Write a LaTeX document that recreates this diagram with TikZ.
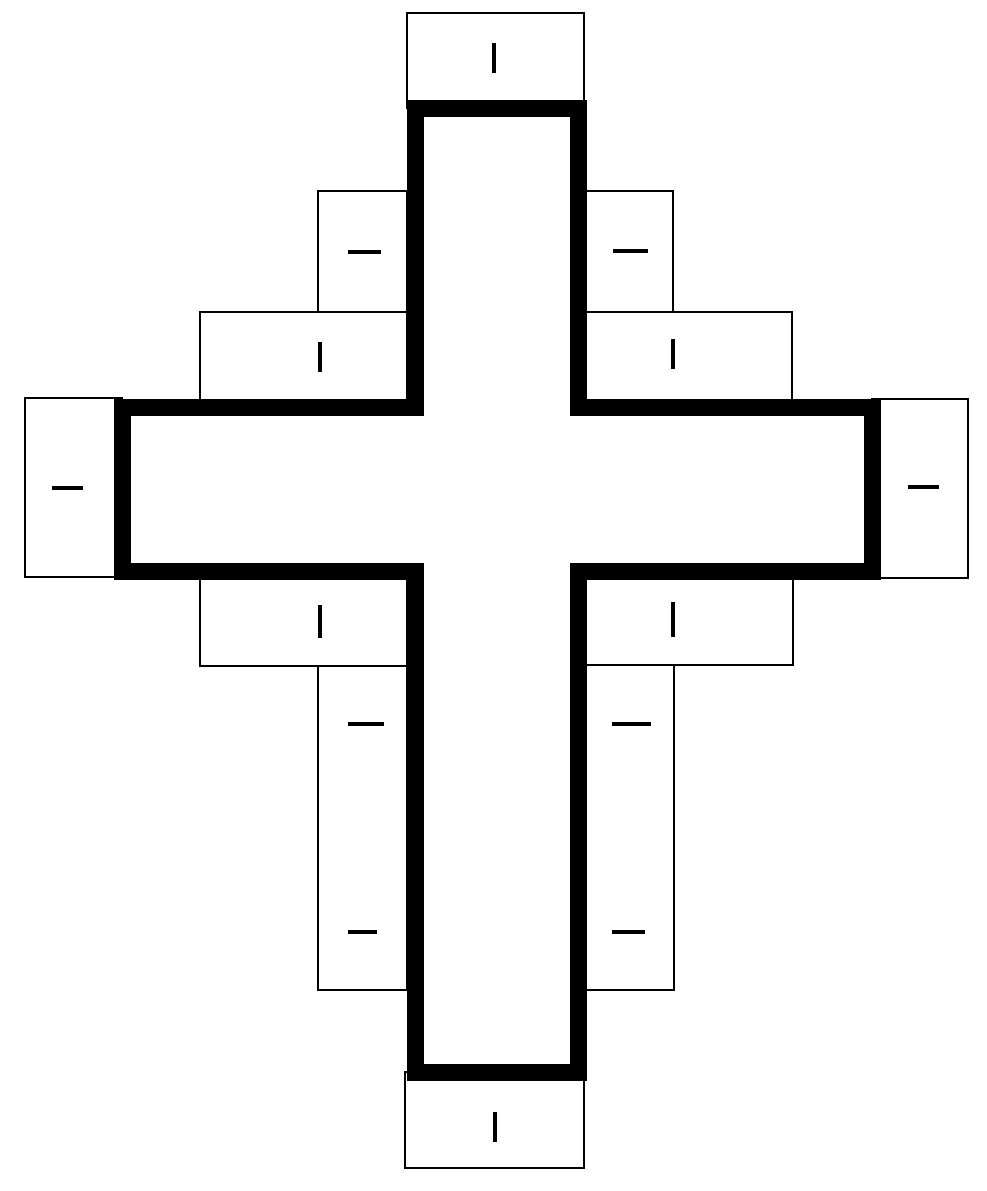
\documentclass[tikz,border=0pt]{standalone}
\usetikzlibrary{fit}
\tikzset{
  box/.style={draw=black, line width=1.9pt, inner sep=0pt, fill=white},
  crossline/.style={draw=black, line width=12.75pt, miter limit=10, fill=white},
  tally/.style={draw=black, line width=2.6pt},
}
\begin{document}
\begin{tikzpicture}[x=0.75pt,y=-0.75pt]
\useasboundingbox (0,0) rectangle (987,1191);
% corner coordinates
\coordinate (t1) at (407,13);   \coordinate (t2) at (584,108);
\coordinate (b1) at (405,1072); \coordinate (b2) at (584,1168);
\coordinate (ul1) at (318,191); \coordinate (ul2) at (407,312);
\coordinate (ur1) at (584,191); \coordinate (ur2) at (673,312);
\coordinate (ml1) at (200,312); \coordinate (ml2) at (407,407);
\coordinate (mr1) at (584,312); \coordinate (mr2) at (792,407);
\coordinate (le1) at (25,398);  \coordinate (le2) at (122,577);
\coordinate (re1) at (872,399); \coordinate (re2) at (968,578);
\coordinate (ll1) at (200,571); \coordinate (ll2) at (407,666);
\coordinate (lr1) at (584,571); \coordinate (lr2) at (793,665);
\coordinate (tl1) at (318,666); \coordinate (tl2) at (407,990);
\coordinate (tr1) at (584,665); \coordinate (tr2) at (674,990);
% boxes
\node[box, fit={(t1)(t2)}] (top) {};
\node[box, fit={(b1)(b2)}] (bottom) {};
\node[box, fit={(ul1)(ul2)}] (upleft) {};
\node[box, fit={(ur1)(ur2)}] (upright) {};
\node[box, fit={(ml1)(ml2)}] (midleft) {};
\node[box, fit={(mr1)(mr2)}] (midright) {};
\node[box, fit={(le1)(le2)}] (leftend) {};
\node[box, fit={(re1)(re2)}] (rightend) {};
\node[box, fit={(tl1)(tl2)}] (talleft) {};
\node[box, fit={(tr1)(tr2)}] (tallright) {};
\node[box, fit={(ll1)(ll2)}] (lowleft) {};
\node[box, fit={(lr1)(lr2)}] (lowright) {};
% cross
\draw[crossline] (415,108.5) -- (578,108.5) -- (578,407) -- (872,407) -- (872,571)
  -- (578,571) -- (578,1072) -- (415,1072) -- (415,571) -- (122,571)
  -- (122,407) -- (415,407) -- cycle;
% tally marks
\draw[tally] (494,43) -- (494,73);
\draw[tally] (495,1112) -- (495,1142);
\draw[tally] (348,252) -- (381,252);
\draw[tally] (613,251) -- (648,251);
\draw[tally] (320,342) -- (320,372);
\draw[tally] (673,339) -- (673,369);
\draw[tally] (52,488) -- (83,488);
\draw[tally] (908,487) -- (939,487);
\draw[tally] (320,605) -- (320,638);
\draw[tally] (673,602) -- (673,637);
\draw[tally] (348,724) -- (384,724);
\draw[tally] (348,932) -- (377,932);
\draw[tally] (612,724) -- (651,724);
\draw[tally] (612,932) -- (645,932);
\end{tikzpicture}
\end{document}
